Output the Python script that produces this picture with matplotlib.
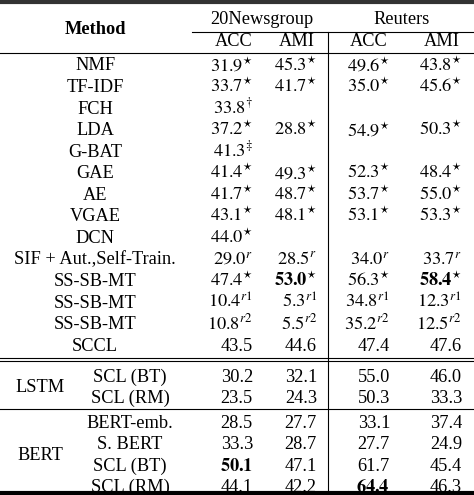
import matplotlib.pyplot as plt

plt.rcParams['font.family'] = ['Liberation Serif', 'DejaVu Serif']
plt.rcParams['mathtext.fontset'] = 'stix'

methods = ['NMF', 'TF-IDF', 'FCH', 'LDA', 'G-BAT', 'GAE', 'AE', 'VGAE', 'DCN',
           'SIF + Aut.,Self-Train.', 'SS-SB-MT', 'SS-SB-MT', 'SS-SB-MT', 'SCCL']
news_acc = ['31.9*', '33.7*', '33.8†', '37.2*', '41.3‡', '41.4*', '41.7*', '43.1*', '44.0*',
            '29.0r', '47.4*', '10.4r1', '10.8r2', '43.5']
news_ami = ['45.3*', '41.7*', '', '28.8*', '', '49.3*', '48.7*', '48.1*', '',
            '28.5r', 'B53.0*', '5.3r1', '5.5r2', '44.6']
reut_acc = ['49.6*', '35.0*', '', '54.9*', '', '52.3*', '53.7*', '53.1*', '',
            '34.0r', '56.3*', '34.8r1', '35.2r2', '47.4']
reut_ami = ['43.8*', '45.6*', '', '50.3*', '', '48.4*', '55.0*', '53.3*', '',
            '33.7r', 'B58.4*', '12.3r1', '12.5r2', '47.6']

lstm_methods = ['SCL (BT)', 'SCL (RM)']
lstm_vals = [['30.2', '32.1', '55.0', '46.0'],
             ['23.5', '24.3', '50.3', '33.3']]
bert_methods = ['BERT-emb.', 'S. BERT', 'SCL (BT)', 'SCL (RM)']
bert_vals = [['28.5', '27.7', '33.1', '37.4'],
             ['33.3', '28.7', '27.7', '24.9'],
             ['B50.1', '47.1', '61.7', '45.4'],
             ['44.1', '42.2', 'B64.4', '46.3']]

col_right = [253, 317, 390, 462]
fs = 13.2
dy = 5.5  # centre -> baseline offset


def fmt(s):
    bold = s.startswith('B')
    if bold:
        s = s[1:]
    sup = ''
    for mark, tex in [('*', r'\star'), ('†', r'\dagger'), ('‡', r'\ddagger'),
                      ('r1', 'r1'), ('r2', 'r2'), ('r', 'r')]:
        if s.endswith(mark):
            s, sup = s[:-len(mark)], tex
            break
    if not bold and not sup:
        return s
    base = r'\mathbf{%s}' % s if bold else r'\mathrm{%s}' % s
    return '$' + base + ('^{%s}' % sup if sup else '') + '$'


def txt(x, y, s, ha='center', **kw):
    ax.text(x, y + dy, s, ha=ha, va='baseline', fontsize=fs, **kw)


fig = plt.figure(figsize=(4.74, 4.95), dpi=100)
ax = fig.add_axes([0, 0, 1, 1])
ax.set_xlim(0, 474)
ax.set_ylim(495, 0)
ax.axis('off')

# header
txt(95, 29, 'Method', fontweight='bold')
txt(262, 19, '20Newsgroup')
txt(402, 19, 'Reuters')
for x, lab in zip([234, 297, 369, 442], ['ACC', 'AMI', 'ACC', 'AMI']):
    txt(x, 41, lab)

# rules
ax.plot([0, 474], [2, 2], color='#333333', lw=3)
ax.plot([192, 474], [31.5, 31.5], color='black', lw=0.8)
ax.plot([0, 474], [53, 53], color='black', lw=0.8)
ax.plot([0, 474], [357.5, 357.5], color='black', lw=0.8)
ax.plot([0, 474], [361, 361], color='black', lw=0.8)
ax.plot([0, 474], [409, 409], color='black', lw=0.8)
ax.plot([0, 474], [493, 493], color='black', lw=3)
ax.plot([328, 328], [31.5, 492], color='black', lw=0.8)

step = 21.55
for i, m in enumerate(methods):
    y = 65 + i * step
    txt(95, y, m)
    for x, v in zip(col_right, [news_acc[i], news_ami[i], reut_acc[i], reut_ami[i]]):
        if v:
            txt(x, y, fmt(v), ha='right')

for i, m in enumerate(lstm_methods):
    y = 376 + i * step
    txt(130, y, m)
    for x, v in zip(col_right, lstm_vals[i]):
        txt(x, y, fmt(v), ha='right')
txt(40, 386.5, 'LSTM')

for i, m in enumerate(bert_methods):
    y = 422 + i * step
    txt(130, y, m)
    for x, v in zip(col_right, bert_vals[i]):
        txt(x, y, fmt(v), ha='right')
txt(40, 455, 'BERT')

fig.savefig('out.png', dpi=100)
